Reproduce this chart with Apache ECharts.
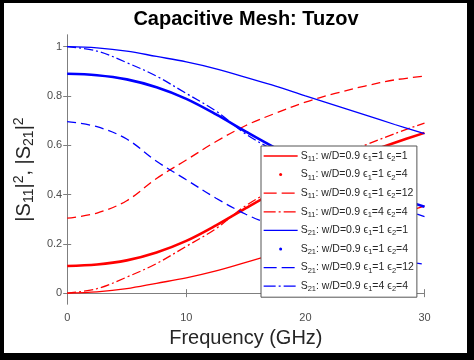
<!DOCTYPE html>
<html>
<head>
<meta charset="utf-8">
<script src="https://cdn.jsdelivr.net/npm/echarts@6/dist/echarts.min.js"></script>
<style>
html,body{margin:0;padding:0;background:#000;width:474px;height:360px;overflow:hidden;}
#chart{position:absolute;left:4px;top:3px;width:463px;height:350px;background:#fff;}
</style>
</head>
<body>
<div id="chart"></div>
<script>
// Frequency samples (GHz)
const freq = [0, 2.5, 5, 7.5, 10, 12.5, 15, 17.5, 20, 22.5, 25, 27.5, 30];
// |S11|^2
const s11_e1_1_e2_1  = [0, 0.005, 0.018, 0.04, 0.062, 0.09, 0.125, 0.16, 0.2, 0.238, 0.277, 0.316, 0.353];
const s11_e1_1_e2_4  = [0.11, 0.116, 0.133, 0.165, 0.212, 0.275, 0.345, 0.412, 0.472, 0.524, 0.568, 0.61, 0.65];
const s11_e1_1_e2_12 = [0.304, 0.325, 0.375, 0.465, 0.54, 0.615, 0.68, 0.73, 0.775, 0.81, 0.84, 0.865, 0.88];
const s11_e1_4_e2_4  = [0, 0.018, 0.065, 0.12, 0.19, 0.262, 0.355, 0.425, 0.49, 0.55, 0.6, 0.647, 0.69];
// |S21|^2
const s21_e1_1_e2_1  = [1, 0.995, 0.982, 0.96, 0.938, 0.91, 0.875, 0.84, 0.8, 0.762, 0.723, 0.684, 0.647];
const s21_e1_1_e2_4  = [0.89, 0.884, 0.867, 0.835, 0.788, 0.725, 0.655, 0.588, 0.528, 0.476, 0.432, 0.39, 0.35];
const s21_e1_1_e2_12 = [0.696, 0.675, 0.625, 0.535, 0.46, 0.385, 0.32, 0.27, 0.225, 0.19, 0.16, 0.135, 0.117];
const s21_e1_4_e2_4  = [1, 0.982, 0.935, 0.88, 0.81, 0.738, 0.645, 0.575, 0.51, 0.45, 0.4, 0.353, 0.31];

const yTicks = [0, 0.2, 0.4, 0.6, 0.8, 1];
const xTicks = [0, 10, 20, 30];

const legendLabels = [
  'S{s|11}: w/D=0.9 ϵ{s|1}=1 ϵ{s|2}=1',
  'S{s|11}: w/D=0.9 ϵ{s|1}=1 ϵ{s|2}=4',
  'S{s|11}: w/D=0.9 ϵ{s|1}=1 ϵ{s|2}=12',
  'S{s|11}: w/D=0.9 ϵ{s|1}=4 ϵ{s|2}=4',
  'S{s|21}: w/D=0.9 ϵ{s|1}=1 ϵ{s|2}=1',
  'S{s|21}: w/D=0.9 ϵ{s|1}=1 ϵ{s|2}=4',
  'S{s|21}: w/D=0.9 ϵ{s|1}=1 ϵ{s|2}=12',
  'S{s|21}: w/D=0.9 ϵ{s|1}=4 ϵ{s|2}=4'
];
const seriesValues = [s11_e1_1_e2_1, s11_e1_1_e2_4, s11_e1_1_e2_12, s11_e1_4_e2_4,
                      s21_e1_1_e2_1, s21_e1_1_e2_4, s21_e1_1_e2_12, s21_e1_4_e2_4];
const RED = '#ff0000', BLUE = '#0000ff';
const styles = [
  {color: RED, width: 1.3, type: 'solid', legendType: 'solid', dot: false},
  {color: RED, width: 2.6, type: 'solid', legendType: 'solid', dot: true},
  {color: RED, width: 1.3, type: [9, 5], legendType: [13, 5], dot: false},
  {color: RED, width: 1.3, type: [9, 3, 2, 3], legendType: [12, 3, 2, 3], dot: false},
  {color: BLUE, width: 1.3, type: 'solid', legendType: 'solid', dot: false},
  {color: BLUE, width: 2.6, type: 'solid', legendType: 'solid', dot: true},
  {color: BLUE, width: 1.3, type: [9, 5], legendType: [13, 5], dot: false},
  {color: BLUE, width: 1.3, type: [9, 3, 2, 3], legendType: [12, 3, 2, 3], dot: false}
];
const names = ['a','b','c','d','e','f','g','h'];

const series = seriesValues.map((vals, i) => ({
  name: names[i],
  type: 'line',
  data: freq.map((f, j) => [f, vals[j]]),
  smooth: 0.35,
  symbol: 'none',
  color: styles[i].color,
  lineStyle: {color: styles[i].color, width: styles[i].width, type: styles[i].type},
  z: 2
}));

const legendData = names.map((n, i) => styles[i].dot
  ? {name: n, icon: 'circle', itemStyle: {color: styles[i].color, opacity: 1}, lineStyle: {opacity: 0}}
  : {name: n, itemStyle: {opacity: 0}, lineStyle: {width: 1.3, type: styles[i].legendType}});

const axisGray = '#7f7f7f';
const labelGray = '#4d4d4d';
const FONT = 'Liberation Sans, Arial, DejaVu Sans, sans-serif';

const chart = echarts.init(document.getElementById('chart'));
chart.setOption({
  animation: false,
  backgroundColor: '#fff',
  title: {
    text: 'Capacitive Mesh: Tuzov',
    left: 242,
    textAlign: 'center',
    top: 6,
    padding: 0,
    textStyle: {fontSize: 20, fontWeight: 'bold', color: '#000', fontFamily: FONT}
  },
  grid: {left: 62, top: 32, right: 42.5, bottom: 47, containLabel: false},
  legend: {
    orient: 'vertical',
    left: 257,
    top: 143,
    data: legendData,
    itemWidth: 34,
    itemHeight: 3,
    itemGap: 4.6,
    padding: [3, 3, 4, 2],
    backgroundColor: '#fff',
    borderColor: '#555',
    borderWidth: 1,
    borderRadius: 0,
    selectedMode: false,
    formatter: name => legendLabels[names.indexOf(name)],
    textStyle: {
      fontSize: 10.5, color: '#262626', fontFamily: FONT, lineHeight: 14, padding: [0, 0, 0, -2],
      rich: {s: {fontSize: 7.5, verticalAlign: 'bottom', lineHeight: 9, fontFamily: FONT, color: '#262626'}}
    }
  },
  xAxis: [{
    type: 'value', min: 0, max: 30, interval: 10, position: 'bottom',
    name: 'Frequency (GHz)', nameLocation: 'middle', nameGap: 24,
    nameTextStyle: {fontSize: 20, color: '#262626', fontFamily: FONT},
    axisLine: {show: true, lineStyle: {color: axisGray, width: 1}},
    axisTick: {show: true, inside: true, length: 4, lineStyle: {color: axisGray}},
    axisLabel: {fontSize: 11, color: labelGray, margin: 8, fontFamily: FONT},
    splitLine: {show: false}
  }, {
    type: 'value', min: 0, max: 30, interval: 10, position: 'top',
    axisLine: {show: true, lineStyle: {color: axisGray, width: 1}},
    axisTick: {show: true, inside: true, length: 4, lineStyle: {color: axisGray}},
    axisLabel: {show: false},
    splitLine: {show: false}
  }],
  yAxis: [{
    type: 'value', min: -0.044, max: 1.047, position: 'left',
    name: '|S{s|11}|{p|2}, |S{s|21}|{p|2}', nameLocation: 'middle', nameGap: 28, nameRotate: 90,
    nameTextStyle: {
      fontSize: 20, color: '#262626', fontFamily: FONT, lineHeight: 24,
      rich: {
        s: {fontSize: 14, verticalAlign: 'bottom', lineHeight: 16, color: '#262626', fontFamily: FONT},
        p: {fontSize: 14, verticalAlign: 'top', lineHeight: 14, color: '#262626', fontFamily: FONT}
      }
    },
    axisLine: {show: true, lineStyle: {color: axisGray, width: 1}},
    axisTick: {show: true, inside: true, length: 4, lineStyle: {color: axisGray}, customValues: yTicks},
    axisLabel: {fontSize: 11, color: labelGray, margin: 5, fontFamily: FONT, customValues: yTicks,
      formatter: v => String(Math.round(v * 10) / 10)},
    splitLine: {show: false}
  }, {
    type: 'value', min: -0.044, max: 1.047, position: 'right',
    axisLine: {show: true, lineStyle: {color: axisGray, width: 1}},
    axisTick: {show: true, inside: true, length: 4, lineStyle: {color: axisGray}, customValues: yTicks},
    axisLabel: {show: false, customValues: yTicks},
    splitLine: {show: false}
  }],
  series: series
});
</script>
</body>
</html>
